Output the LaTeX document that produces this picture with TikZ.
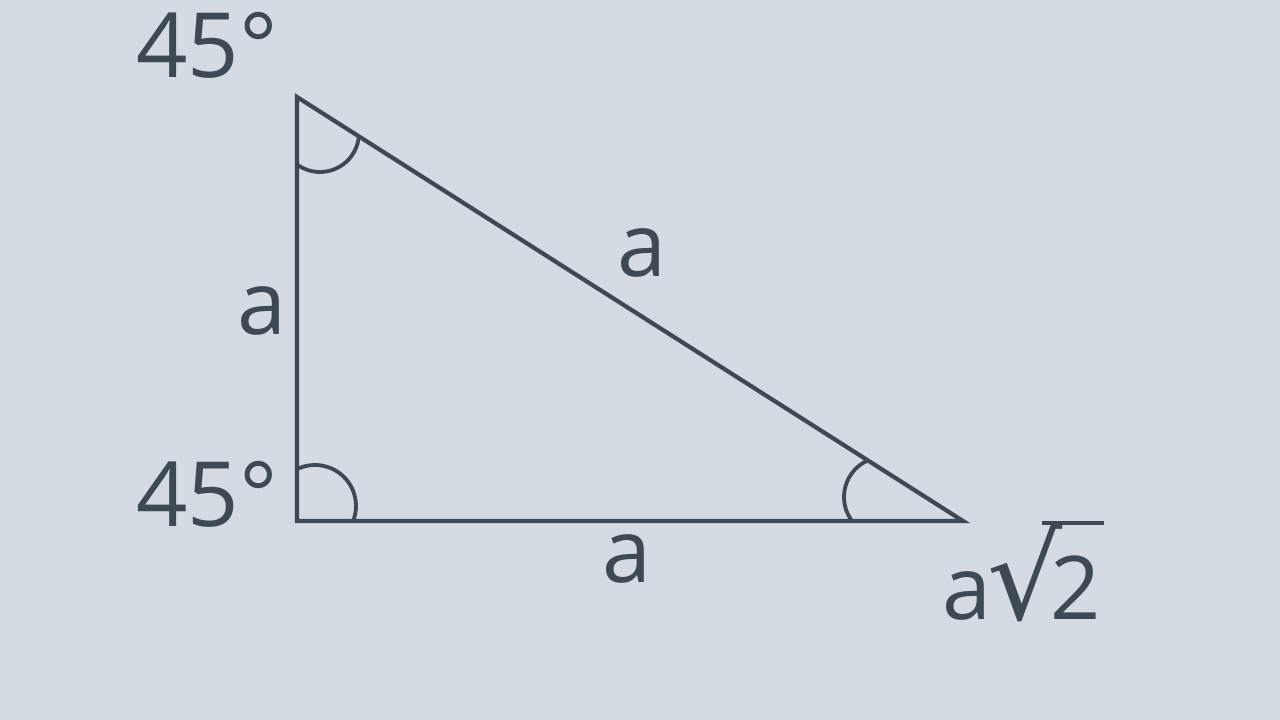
\documentclass[tikz,border=0pt]{standalone}
\usepackage{fontspec}
\setmainfont{Open Sans}
\newfontfamily\djv{DejaVu Sans}
\definecolor{bg}{HTML}{D4DBE2}
\definecolor{ink}{HTML}{3F4953}
\begin{document}
\begin{tikzpicture}[x=1pt,y=1pt,
  edge/.style={draw=ink, line width=4.2pt, line join=miter},
  angarc/.style={draw=ink, line width=3.8pt},
  lbl/.style={text=ink, inner sep=0pt, font=\fontsize{88}{100}\selectfont},
  deg/.style={lbl, font=\fontsize{90}{100}\selectfont}]
\fill[bg] (0,0) rectangle (1280,720);
\useasboundingbox (0,0) rectangle (1280,720);
\coordinate (A) at (297,623);
\coordinate (B) at (297,199);
\coordinate (C) at (963,199);
\draw[edge] (A) -- (B) -- (C) -- cycle;
% angle marks
\draw[angarc] (315,214) ++(114.5:41) arc[start angle=114.5, end angle=-21.4, radius=41];
\draw[angarc] (320,587) ++(-126:39) arc[start angle=-126, end angle=-5, radius=39];
\draw[angarc] (884,223) ++(114.4:40) arc[start angle=114.4, end angle=216.9, radius=40];
% labels
\node[deg, anchor=base west] (t45) at (136,642) {45°};
\node[deg, anchor=base west] (b45) at (136,193) {45°};
\node[lbl, anchor=base] (la) at (262,385) {a};
\node[lbl, anchor=base] (ha) at (642,443) {a};
\node[lbl, anchor=base] (ba) at (627,137) {a};
\node[lbl, anchor=base west] (ra) at (942,100) {a\kern-4pt{\djv\fontsize{118}{120}\selectfont √}\rlap{\kern-20pt\rule[95pt]{62pt}{4pt}}\kern-12pt 2};
\end{tikzpicture}
\end{document}
